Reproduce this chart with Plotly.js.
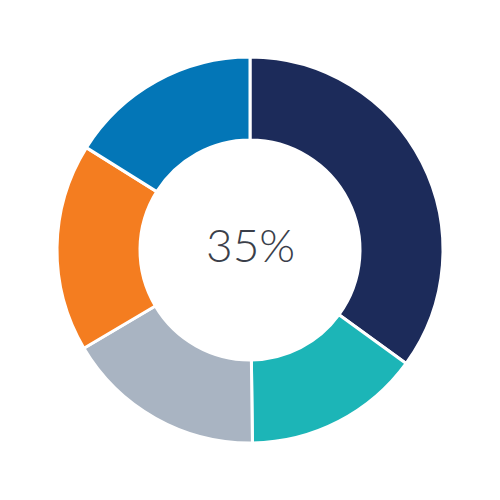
<!DOCTYPE html>
<html><head><meta charset="utf-8">
<script src="https://cdn.plot.ly/plotly-3.0.1.min.js"></script>
<style>html,body{margin:0;padding:0;background:#fff}#c{width:500px;height:500px}</style>
</head><body><div id="c"></div>
<script>
const labels = ["A", "B", "C", "D", "E"];
const values = [35, 14.8, 16.7, 17.4, 16.1];
const colors = ["#1c2b5a", "#1cb5b7", "#a9b4c2", "#f47d20", "#0376b7"];
const centerText = "35%";

Plotly.newPlot("c", [{
  type: "pie",
  labels: labels,
  values: values,
  sort: false,
  direction: "clockwise",
  rotation: 0,
  hole: 0.57,
  textinfo: "none",
  hoverinfo: "none",
  marker: {colors: colors, line: {color: "#ffffff", width: 3}},
  domain: {x: [0.114, 0.886], y: [0.114, 0.886]}
}], {
  width: 500, height: 500,
  margin: {l: 0, r: 0, t: 0, b: 0},
  showlegend: false,
  paper_bgcolor: "#ffffff",
  annotations: [{
    text: centerText, x: 0.5, y: 0.512, xref: "paper", yref: "paper",
    showarrow: false, xanchor: "center", yanchor: "middle",
    font: {family: "Lato", size: 46, color: "#3b3f4a", weight: 300}
  }]
}, {staticPlot: true});
</script></body></html>
